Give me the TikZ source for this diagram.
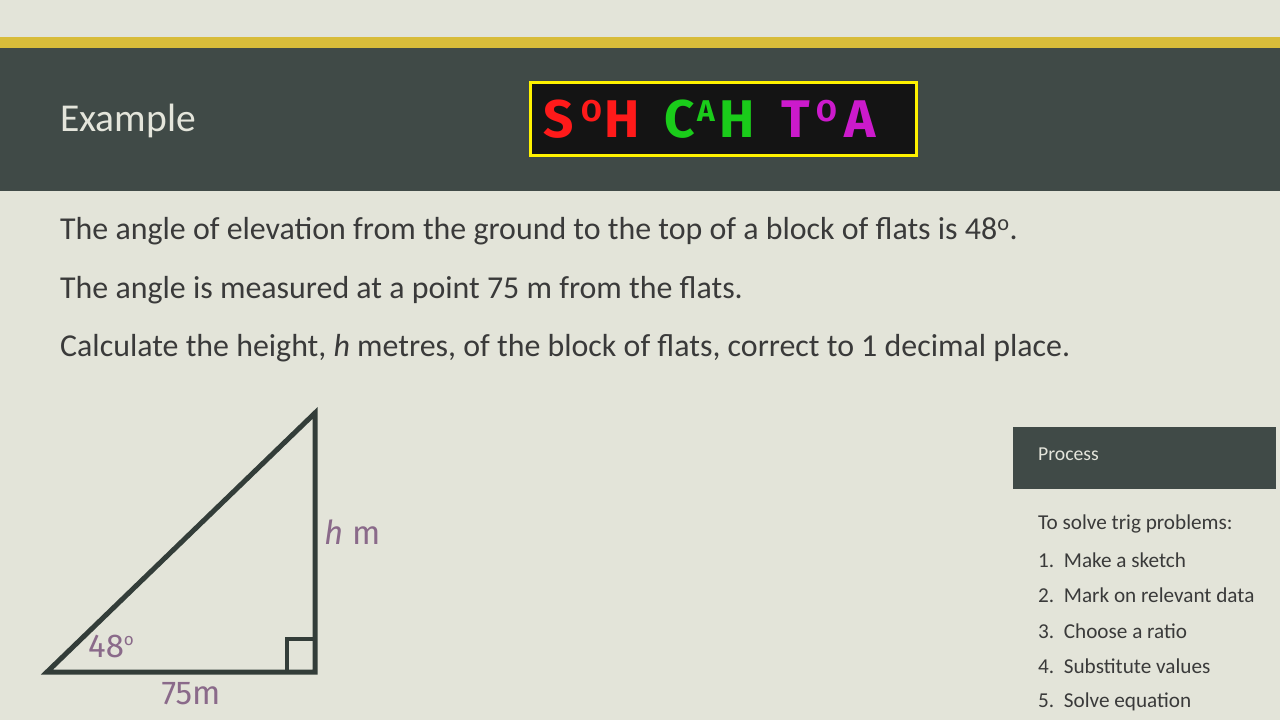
\documentclass[tikz,border=0pt]{standalone}
\usepackage{fontspec}
\setmainfont{Carlito}
\newfontfamily\comic{Fira Sans}
\definecolor{bg}{HTML}{E3E4D9}
\definecolor{band}{HTML}{D8BC3A}
\definecolor{board}{HTML}{404A47}
\definecolor{ink}{HTML}{333D39}
\definecolor{lbl}{HTML}{8A6A8A}
\definecolor{txt}{HTML}{3A3A3A}
\definecolor{sred}{HTML}{FF1A1A}
\definecolor{sgreen}{HTML}{1ACC1A}
\definecolor{smag}{HTML}{CC1ACC}
\tikzset{
  body/.style={anchor=west, inner sep=0pt, text=txt, font=\fontsize{31.9}{36}\selectfont},
  item/.style={anchor=west, inner sep=0pt, text=txt, font=\fontsize{21.2}{25}\selectfont},
  lab/.style={inner sep=0pt, text=lbl, font=\comic\fontsize{33}{38}\selectfont},
  tri/.style={draw=ink, line width=5pt, line join=miter},
  big/.style={anchor=base west, inner sep=0pt, font=\comic\bfseries\fontsize{53}{60}\selectfont},
  sup/.style={anchor=base west, inner sep=0pt, font=\comic\bfseries\fontsize{30}{32}\selectfont},
}
\begin{document}
\begin{tikzpicture}[x=1pt,y=-1pt]
\useasboundingbox (0,0) rectangle (1280,720);
\fill[bg] (0,0) rectangle (1280,720);
\fill[band] (0,37) rectangle (1280,48);
\fill[board] (0,48) rectangle (1280,191);
\node[anchor=west, inner sep=0pt, text=bg!95!white, font=\fontsize{39.5}{44}\selectfont] (title) at (60,121) {Example};
% SOH CAH TOA
\node[draw=yellow, line width=3pt, fill=black!92, minimum width=386pt, minimum height=73pt, inner sep=0pt] (soh) at (723.5,119) {};
\node[big, text=sred] (s1) at (543,137) {S};
\node[sup, text=sred] (s2) at (581,121) {O};
\node[big, text=sred] (s3) at (604,137) {H};
\node[big, text=sgreen] (c1) at (664,137) {C};
\node[sup, text=sgreen] (c2) at (697,121) {A};
\node[big, text=sgreen] (c3) at (719,137) {H};
\node[big, text=smag] (t1) at (781,137) {T};
\node[sup, text=smag] (t2) at (816,121) {O};
\node[big, text=smag] (t3) at (844,137) {A};
% body text
\node[body] (l1) at (60,231) {The angle of elevation from the ground to the top of a block of flats is 48\textsuperscript{o}.};
\node[body] (l2) at (60,290) {The angle is measured at a point 75 m from the flats.};
\node[body] (l3) at (60,348) {Calculate the height, \textit{h} metres, of the block of flats, correct to 1 decimal place.};
% triangle
\coordinate (A) at (47,672);
\coordinate (B) at (315,672);
\coordinate (C) at (315,413);
\draw[tri] (A) -- (B) -- (C) -- cycle;
\draw[draw=ink, line width=4pt] (287,672) -- (287,639) -- (315,639);
\node[lab, anchor=west] (hm) at (324,532) {\textit{h} m};
\node[lab, anchor=west] (ang) at (88,646) {48\raisebox{0.35em}{\fontsize{17}{18}\selectfont o}};
\node[lab] (base) at (191,694) {75m};
% process panel
\fill[board] (1013,427) rectangle (1276,489);
\node[anchor=west, inner sep=0pt, text=bg!95!white, font=\fontsize{19.7}{23}\selectfont] (proc) at (1038,454) {Process};
\node[item] (p0) at (1038,524) {To solve trig problems:};
\node[item] (p1) at (1038,560) {1.\ \ Make a sketch};
\node[item] (p2) at (1038,595) {2.\ \ Mark on relevant data};
\node[item] (p3) at (1038,631) {3.\ \ Choose a ratio};
\node[item] (p4) at (1038,666) {4.\ \ Substitute values};
\node[item] (p5) at (1038,702) {5.\ \ Solve equation};
\end{tikzpicture}
\end{document}
